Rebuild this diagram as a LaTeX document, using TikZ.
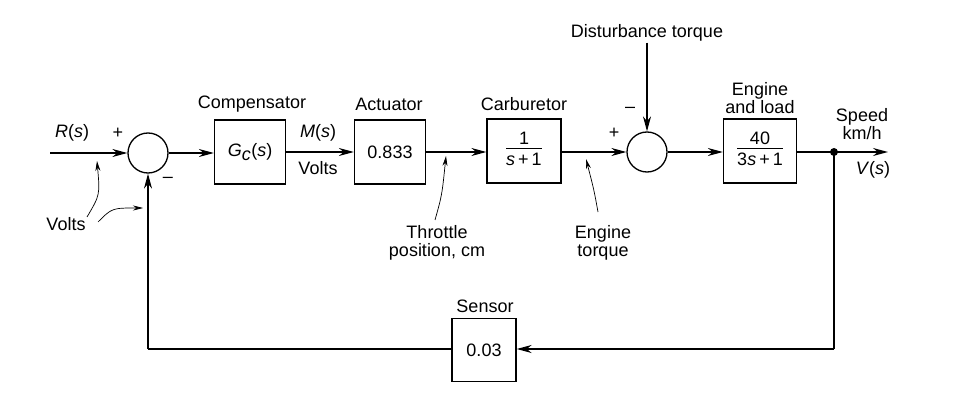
\documentclass[tikz,border=0pt]{standalone}
\usepackage{fontspec}
\setmainfont{Liberation Sans}
\usetikzlibrary{arrows.meta}
\begin{document}
\begin{tikzpicture}[x=1pt,y=-1pt,
  every node/.style={font=\fontsize{18}{22}\selectfont,inner sep=1pt},
  blk/.style={draw,line width=1.3pt,minimum width=71pt,minimum height=64pt},
  sum/.style={draw,line width=1.3pt,circle,minimum size=40pt,inner sep=0pt},
  sig/.style={line width=1.3pt,-{Stealth[length=15pt,width=8pt]}},
  ln/.style={line width=1.3pt},
  thin/.style={line width=0.7pt,-{Stealth[length=10pt,width=5pt]}}]
\useasboundingbox (0,0) rectangle (974,406);
\node[sum] (s1) at (148,153) {};
\node[blk] (gc) at (250,152) {\textit{G}$_{\textit{c}}$(\textit{s})};
\node[blk] (act) at (390,152) {0.833};
\node[blk,minimum width=74pt] (car) at (524,151) {\begin{tabular}{@{}c@{}}1\\[-3pt]\hline\rule{0pt}{17pt}\textit{s}\,+\,1\end{tabular}};
\node[sum] (s2) at (647,152) {};
\node[blk,minimum width=73pt] (eng) at (760,151) {\begin{tabular}{@{}c@{}}40\\[-3pt]\hline\rule{0pt}{17pt}3\textit{s}\,+\,1\end{tabular}};
\node[blk,minimum width=64pt,minimum height=63pt] (sen) at (484,350) {0.03};
\coordinate (in) at (50,153);
\coordinate (dot) at (834,152);
\coordinate (out) at (888,152);
\coordinate (fb) at (834,349);
\coordinate (fc) at (148,349);
\node (dist) at (647,33) {Disturbance torque};
\fill (dot) circle (4pt);
\draw[sig] (in) -- (s1.west);
\draw[sig] (s1.east) -- (gc.west |- s1);
\draw[sig] (gc.east |- act) -- (act.west);
\draw[sig] (act.east |- 0,152) -- (car.west |- 0,152);
\draw[sig] (car.east |- 0,152) -- (s2.west);
\draw[sig] (s2.east) -- (eng.west |- s2);
\draw[sig] (eng.east |- dot) -- (out);
\draw[sig] (dist.south) -- (s2.north);
\draw[ln] (dot) -- (fb);
\draw[sig] (fb) -- (sen.east |- fb);
\draw[ln] (sen.west |- fb) -- (fc);
\draw[sig] (fc) -- (s1.south);
% labels
\node at (72,133) {\textit{R}(\textit{s})};
\node at (118,133) {+};
\node at (168,180) {--};
\node at (614,133) {+};
\node at (630,110) {--};
\node at (252,104) {Compensator};
\node at (389,104) {Actuator};
\node at (524,104) {Carburetor};
\node[align=center] at (760,98) {Engine\\[-4pt]and load};
\node[align=center] at (862,124) {Speed\\[-4pt]km/h};
\node at (873,170) {\textit{V}(\textit{s})};
\node at (318,133) {\textit{M}(\textit{s})};
\node at (318,168) {Volts};
\node at (485,306) {Sensor};
\node[align=center] (thr) at (437,243) {Throttle\\[-4pt]position, cm};
\node[align=center] (et) at (603,243) {Engine\\[-4pt]torque};
\node (volts) at (66,224) {Volts};
\coordinate (t1) at (446,156);
\coordinate (e1) at (586,159);
\coordinate (v1) at (97,161);
\coordinate (v2) at (143,208);
\draw[thin] (435,220) .. controls (442,195) .. (t1);
\draw[thin] (598,212) .. controls (594,190) .. (e1);
\draw[thin] (87,217) .. controls (100,195) .. (v1);
\draw[thin] (98,222) .. controls (112,208) .. (v2);
\end{tikzpicture}
\end{document}
